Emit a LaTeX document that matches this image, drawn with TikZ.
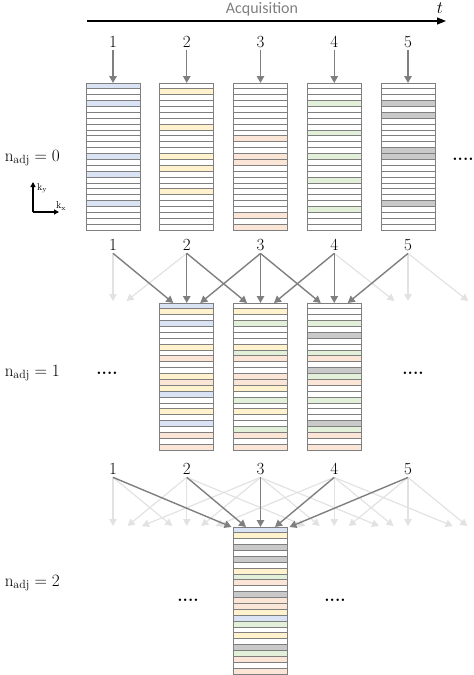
\documentclass[tikz,border=0pt]{standalone}
\usepackage{fontspec}
\usepackage{amsmath}
\usetikzlibrary{arrows.meta}
\newfontfamily\acqfont{Carlito}

\definecolor{kblue}{HTML}{DAE3F3}
\definecolor{kyellow}{HTML}{FFF2CC}
\definecolor{kpeach}{HTML}{FBE5D6}
\definecolor{kgreen}{HTML}{E2F0D9}
\definecolor{kgray}{HTML}{C9C9C9}
\definecolor{arrgray}{HTML}{7F7F7F}
\definecolor{arrlight}{HTML}{E2E2E2}

\tikzset{
    stackbox/.style={draw=arrgray, line width=0.9pt, minimum width=54pt, minimum height=147pt, inner sep=0pt, outer sep=0pt},
    rowline/.style={draw=arrgray, line width=0.9pt},
    frameno/.style={font=\fontsize{17}{20}\selectfont, inner sep=2.5pt},
    darkarrow/.style={draw=arrgray, line width=1.4pt, -{Triangle[width=7.5pt,length=7pt]}},
    lightarrow/.style={draw=arrlight, line width=1.2pt, -{Triangle[width=7.5pt,length=7pt]}},
    moredots/.style={font=\fontsize{17}{18}\selectfont\bfseries, inner sep=0pt},
    adjlabel/.style={font=\fontsize{17}{20}\selectfont, anchor=east, inner sep=0pt},
}

\newcommand{\kstack}[4]{%
    \foreach \rowno/\rowcol in {#4}
        \fill[\rowcol] ({#2-27},{#3+(\rowno-1)*5.88}) rectangle ++(54,5.88);
    \foreach \rowno in {1,...,24}
        \draw[rowline] ({#2-27},{#3+\rowno*5.88}) -- ++(54,0);
    \node[stackbox] (#1) at (#2,{#3+73.5}) {};
}

\begin{document}
\begin{tikzpicture}[x=1pt, y=-1pt]

    \useasboundingbox (0,0) rectangle (474,675);

    \coordinate (acqstart) at (87,21);
    \coordinate (acqend) at (446,21);
    \draw[line width=1.2pt, -{Triangle[width=7pt,length=9pt]}] (acqstart) -- (acqend);
    \node[font=\acqfont\fontsize{16}{18}\selectfont, text=arrgray] (acq) at (262,9) {Acquisition};
    \node[font=\fontsize{17}{20}\selectfont] (tlabel) at (440,8) {$t$};

    \kstack{s1}{113}{83}{1/kblue,4/kblue,13/kblue,16/kblue,21/kblue}
    \kstack{s2}{186.75}{83}{2/kyellow,8/kyellow,13/kyellow,15/kyellow,19/kyellow}
    \kstack{s3}{260.5}{83}{10/kpeach,13/kpeach,14/kpeach,23/kpeach,25/kpeach}
    \kstack{s4}{334.25}{83}{4/kgreen,9/kgreen,13/kgreen,17/kgreen,22/kgreen}
    \kstack{s5}{408}{83}{4/kgray,6/kgray,12/kgray,13/kgray,21/kgray}

    \kstack{m2}{186.75}{303}{1/kblue,2/kyellow,4/kblue,8/kyellow,10/kpeach,13/kyellow,14/kpeach,15/kyellow,16/kblue,19/kyellow,21/kblue,23/kpeach,25/kpeach}
    \kstack{m3}{260.5}{303}{2/kyellow,4/kgreen,8/kyellow,9/kgreen,10/kpeach,13/kpeach,14/kpeach,15/kyellow,17/kgreen,19/kyellow,22/kgreen,23/kpeach,25/kpeach}
    \kstack{m4}{334.25}{303}{4/kgreen,6/kgray,9/kgreen,10/kpeach,12/kgray,13/kgreen,14/kpeach,17/kgreen,21/kgray,22/kgreen,23/kpeach,25/kpeach}

    \kstack{b3}{260.5}{527}{1/kblue,2/kyellow,4/kgray,6/kgray,8/kyellow,9/kgreen,10/kpeach,12/kgray,13/kpeach,14/kpeach,15/kyellow,16/kblue,17/kgreen,19/kyellow,21/kgray,22/kgreen,23/kpeach,25/kpeach}

    \foreach \i/\x in {1/113,2/186.75,3/260.5,4/334.25,5/408} {
        \node[frameno] (p\i) at (\x,42) {\i};
        \node[frameno] (q\i) at (\x,245) {\i};
        \node[frameno] (r\i) at (\x,469) {\i};
    }

    \foreach \c/\x in {1/113,2/186.75,3/260.5,4/334.25,5/408,6/481.75} {
        \coordinate (mt\c) at (\x,301);
        \coordinate (bt\c) at (\x,526);
    }

    \foreach \i in {1,...,5}
        \draw[darkarrow] (p\i.south) -- (s\i.north);

    \foreach \c/\f in {1/1,1/2,5/4,5/5,6/5}
        \draw[lightarrow] (q\f.south) -- ([xshift={(\f-\c)*13.5pt}]mt\c);
    \foreach \c/\f in {2/1,2/2,2/3,3/2,3/3,3/4,4/3,4/4,4/5}
        \draw[darkarrow] (q\f.south) -- ([xshift={(\f-\c)*13.5pt}]m\c.north);

    \foreach \c/\f in {1/1,1/2,1/3,2/1,2/2,2/3,2/4,4/2,4/3,4/4,4/5,5/3,5/4,5/5,6/4,6/5}
        \draw[lightarrow] (r\f.south) -- ([xshift={(\f-\c)*14.5pt}]bt\c);
    \foreach \f in {1,...,5}
        \draw[darkarrow] (r\f.south) -- ([xshift={(\f-3)*14.5pt}]b3.north);

    \node[adjlabel] (adj0) at (60,158) {$\mathrm{n}_{\mathrm{adj}} = 0$};
    \node[adjlabel] (adj1) at (60,373) {$\mathrm{n}_{\mathrm{adj}} = 1$};
    \node[adjlabel] (adj2) at (60,583) {$\mathrm{n}_{\mathrm{adj}} = 2$};

    \node[moredots] (dots0) at (463,159) {....};
    \node[moredots] (dots1l) at (107,373) {....};
    \node[moredots] (dots1r) at (413,373) {....};
    \node[moredots] (dots2l) at (188,600) {....};
    \node[moredots] (dots2r) at (335,600) {....};

    \coordinate (korigin) at (33,212);
    \coordinate (kyend) at (33,182);
    \coordinate (kxend) at (59,212);
    \draw[line width=1.1pt, -{Triangle[width=5pt,length=5pt]}] (korigin) -- (kyend);
    \draw[line width=1.1pt, -{Triangle[width=5pt,length=5pt]}] (korigin) -- (kxend);
    \node[font=\fontsize{10}{12}\selectfont, inner sep=0pt] (kylabel) at (42,188) {$\mathrm{k}_{\mathrm{y}}$};
    \node[font=\fontsize{10}{12}\selectfont, inner sep=0pt] (kxlabel) at (61,206) {$\mathrm{k}_{\mathrm{x}}$};

\end{tikzpicture}
\end{document}
